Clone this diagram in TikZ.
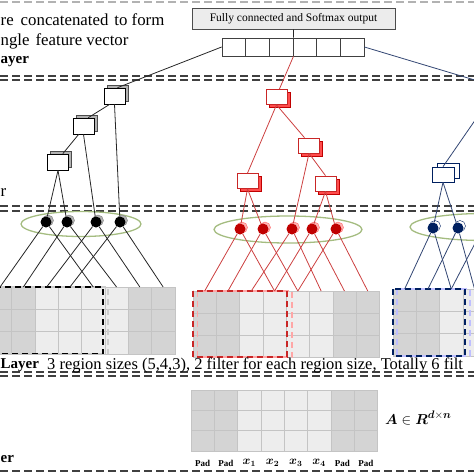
\documentclass[tikz,border=0pt]{standalone}
\usepackage{fontspec}
\setmainfont{Liberation Serif}
\usepackage{bm}
\usetikzlibrary{shadows}
\definecolor{cnnred}{RGB}{192,0,0}
\definecolor{redline}{RGB}{204,64,64}
\definecolor{navy}{RGB}{0,32,96}
\definecolor{blueline}{RGB}{50,70,115}
\definecolor{poolgreen}{RGB}{164,188,128}
\definecolor{padgray}{RGB}{212,212,212}
\definecolor{wordgray}{RGB}{237,237,237}
\definecolor{gridgray}{RGB}{196,196,196}

\begin{document}
\begin{tikzpicture}[x=1pt,y=-1pt,
    sep/.style={dash pattern=on 8pt off 4pt, line width=1.1pt, draw=black!75},
    win/.style={dash pattern=on 6pt off 4pt, line width=1.6pt},
    cell/.style={draw=gridgray, line width=0.5pt},
    fcbox/.style={draw=black!70, fill=gray!15, line width=0.8pt, minimum width=203pt,
      minimum height=21pt, inner sep=0pt, font=\fontsize{11.5}{12}\selectfont},
    vcell/.style={draw=black!75, fill=white, line width=0.8pt, minimum width=23.67pt,
      minimum height=18pt, inner sep=0pt},
    fmapk/.style={draw=black, fill=white, minimum width=21pt, minimum height=16pt, inner sep=0pt,
      line width=0.7pt, copy shadow={fill=gray!60, draw=black!70, shadow xshift=3pt, shadow yshift=2.5pt}},
    fmapr/.style={draw=cnnred!85, fill=white, minimum width=21pt, minimum height=15pt, inner sep=0pt,
      line width=0.7pt, copy shadow={fill=red!70, draw=cnnred, shadow xshift=3pt, shadow yshift=-3pt}},
    fmapb/.style={draw=navy, fill=white, minimum width=22pt, minimum height=15pt, inner sep=0pt,
      line width=0.7pt, copy shadow={fill=white, draw=navy, shadow xshift=5pt, shadow yshift=4pt}},
    dotk/.style={circle, fill=black, minimum size=11pt, inner sep=0pt,
      copy shadow={fill=gray!60, draw=gray, shadow xshift=2pt, shadow yshift=1.5pt}},
    dotr/.style={circle, fill=cnnred, minimum size=11pt, inner sep=0pt,
      copy shadow={fill=red!30, draw=red!60, shadow xshift=2pt, shadow yshift=1.5pt}},
    dotb/.style={circle, fill=navy, minimum size=11pt, inner sep=0pt,
      copy shadow={fill=white, draw=navy, shadow xshift=2pt, shadow yshift=2pt}},
    kline/.style={draw=black!85, line width=0.8pt},
    rline/.style={draw=redline, line width=0.8pt},
    bline/.style={draw=blueline, line width=0.8pt},
    pool/.style={draw=poolgreen, line width=1.3pt},
    txt/.style={anchor=west, inner sep=0pt, font=\fontsize{16.8}{18}\selectfont},
    btxt/.style={anchor=west, inner sep=0pt, font=\bfseries\fontsize{15}{17}\selectfont},
  ]
  \useasboundingbox (0,0) rectangle (474,474);
  \clip (0,0) rectangle (474,474);

  % layer separators
  \draw[sep, draw=gray!60] (0,2) -- (474,2);
  \foreach \y in {76,80,206,211,372,376,471} \draw[sep] (0,\y) -- (474,\y);

  % word matrices
  \foreach \mx/\my/\mh/\mn in {-11.6/287/67/k,193/291/66/r,393/289/67/b,191/390/61/a} {
    \foreach \c in {1,...,8} {
      \def\cellcol{wordgray}
      \ifnum\c<3 \def\cellcol{padgray}\fi
      \ifnum\c>6 \def\cellcol{padgray}\fi
      \foreach \r in {0,1,2}
        \draw[cell, fill=\cellcol] (\mx+23.3*\c-23.3, \my+\mh*\r/3) rectangle ++(23.3, \mh/3);
      \coordinate (\mn\c) at (\mx+23.3*\c-11.65, \my);
    }
  }

  % filter windows
  \draw[win, draw=gray!40] (-6.6,287) rectangle (108,353.5);
  \draw[win, draw=black] (-11.6,287) rectangle (103,353.5);
  \draw[win, draw=red!35] (197.5,291) rectangle (292,357);
  \draw[win, draw=cnnred!85] (193,291) rectangle (287,357);
  \draw[win, draw=blue!25] (397,289) rectangle (470,356);
  \draw[win, draw=navy] (393,289) rectangle (465,356);

  % pooling
  \draw[pool] (81,224) ellipse [x radius=60, y radius=12.5];
  \draw[pool] (288,229.5) ellipse [x radius=74, y radius=13.5];
  \draw[pool] (484,227) ellipse [x radius=74, y radius=13.5];

  % output
  \node[fcbox] (fc) at (293.5,18.5) {Fully connected and Softmax output};
  \foreach \i in {1,...,6} \node[vcell] (v\i) at (222+23.67*\i-11.83, 47) {};

  % feature maps
  \node[fmapk] (kb1) at (114.5,96) {};
  \node[fmapk] (kb2) at (83.5,126) {};
  \node[fmapk] (kb3) at (58,162) {};
  \node[fmapr] (rb1) at (276.5,97) {};
  \node[fmapr] (rb2) at (309,145.5) {};
  \node[fmapr] (rb3) at (247.5,181) {};
  \node[fmapr] (rb4) at (325.5,183.5) {};
  \node[fmapb] (bb1) at (443,174.5) {};
  \coordinate (bltop) at (498,87);

  % pooled units
  \foreach \x [count=\i] in {46,67,96,120} \node[dotk] (kd\i) at (\x,222) {};
  \foreach \x [count=\i] in {240,263,292,312,336} \node[dotr] (rd\i) at (\x,229) {};
  \foreach \x [count=\i] in {433,458,483} \node[dotb] (bd\i) at (\x,228) {};

  % connections
  \draw[kline] (fc.south) -- (v3.north east);
  \draw[kline] (v1.west) -- (kb1.70);
  \draw[kline] (kb1.240) -- (kb2.60);
  \draw[kline] (kb1.south) -- (kd4);
  \draw[kline] (kb2.south) -- (kd3);
  \draw[kline] (kb2.240) -- (kb3.60);
  \draw[kline] (kb3.south) -- (kd1);
  \draw[kline] (kb3.south) -- (kd2);
  \draw[rline] (v3.south east) -- (rb1.70);
  \draw[rline] (rb1.south) -- (rb3.north);
  \draw[rline] (rb1.south) -- (rb2.120);
  \draw[rline] (rb2.south) -- (rb4.north);
  \draw[rline] (rb2.south) -- (rd3);
  \draw[rline] (rb3.south) -- (rd1);
  \draw[rline] (rb3.south) -- (rd2);
  \draw[rline] (rb4.south) -- (rd4);
  \draw[rline] (rb4.south) -- (rd5);
  \draw[bline] (v6.east) -- (bltop);
  \draw[bline] (bltop) -- (bb1.north);
  \draw[bline] (bb1.south) -- (bd1);
  \draw[bline] (bb1.south) -- (bd2);
  \foreach \i in {1,...,4} {
    \pgfmathtruncatemacro{\j}{\i+4}
    \draw[kline] (kd\i) -- (k\i);
    \draw[kline] (kd\i) -- (k\j);
  }
  \foreach \i in {1,...,5} {
    \pgfmathtruncatemacro{\j}{\i+3}
    \draw[rline] (rd\i) -- (r\i);
    \draw[rline] (rd\i) -- (r\j);
  }
  \foreach \i in {1,...,3} {
    \pgfmathtruncatemacro{\j}{\i+2}
    \draw[bline] (bd\i) -- (b\i);
    \draw[bline] (bd\i) -- (b\j);
  }

  % texts
  \node[txt] (t1) at (0.5,20) {re\hspace{7pt}concatenated\hspace{6pt}to form};
  \node[txt] (t2) at (0.5,41) {ngle\hspace{6pt}feature vector};
  \node[btxt] (t3) at (0.5,62) {ayer};
  \node[txt] (t4) at (0.5,193) {r};
  \node[btxt] (t5) at (0.5,365) {Layer};
  \node[txt, font=\fontsize{16.5}{18}\selectfont] (t6) at (47,365)
    {3 region sizes (5,4,3), 2 filter for each region size, Totally 6 filt};
  \node[btxt] (t7) at (0.5,459) {er};
  \node[anchor=west, inner sep=0pt, font=\fontsize{15}{17}\selectfont] (amat) at (385,418)
    {$\bm{A}\in\bm{R}^{\bm{d}\times\bm{n}}$};
  \foreach \lab [count=\c] in {Pad,Pad,{\fontsize{12}{13}\selectfont$\bm{x_1}$},
      {\fontsize{12}{13}\selectfont$\bm{x_2}$},{\fontsize{12}{13}\selectfont$\bm{x_3}$},
      {\fontsize{12}{13}\selectfont$\bm{x_4}$},Pad,Pad}
    \path (a\c) ++(0,73) node[font=\bfseries\fontsize{9}{10}\selectfont, inner sep=0pt] (lab\c) {\lab};
\end{tikzpicture}
\end{document}
